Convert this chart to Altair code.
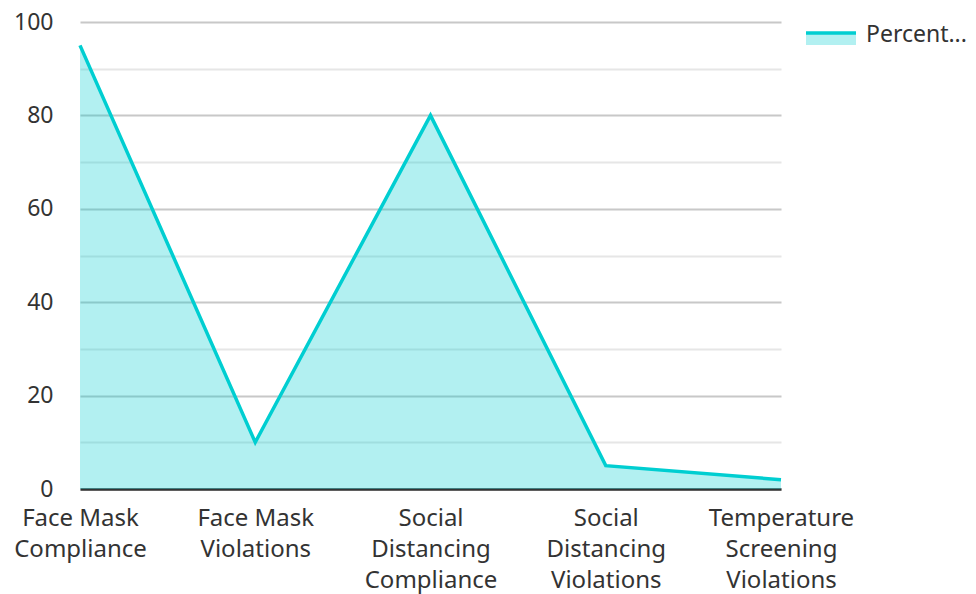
import altair as alt
import pandas as pd

categories = [
    "Face Mask\nCompliance",
    "Face Mask\nViolations",
    "Social\nDistancing\nCompliance",
    "Social\nDistancing\nViolations",
    "Temperature\nScreening\nViolations",
]
values = [95, 10, 80, 5, 2]
legend_label = ["Percent..."]
y_ticks = [0, 10, 20, 30, 40, 50, 60, 70, 80, 90, 100]

FONT = "Noto Sans"
LINE = "#00CED1"
TEXT = "#333333"

df = pd.DataFrame({"Category": categories, "Percent": values})

x_enc = alt.X(
    "Category:N",
    sort=categories,
    scale=alt.Scale(type="point", padding=0),
    axis=alt.Axis(
        title=None,
        labelAngle=0,
        labelExpr="split(datum.label, '\\n')",
        labelFont=FONT,
        labelFontSize=24,
        labelColor=TEXT,
        labelLineHeight=31,
        labelPadding=17,
        labelBaseline="top",
        ticks=False,
        domainColor="#333333",
        domainWidth=2.5,
        grid=False,
    ),
)
y_enc = alt.Y(
    "Percent:Q",
    scale=alt.Scale(domain=[0, 100], nice=False),
    axis=alt.Axis(
        title=None,
        values=y_ticks,
        labelExpr="datum.value % 20 === 0 ? datum.label : ''",
        labelFont=FONT,
        labelFontSize=23,
        labelColor=TEXT,
        labelPadding=27,
        ticks=False,
        domain=False,
        gridColor={"condition": {"test": "datum.value % 20 === 0", "value": "#c8c8c8"}, "value": "#e6e6e6"},
        gridWidth=2,
    ),
)

base = alt.Chart(df)
area = base.mark_area(color=LINE, opacity=0.3).encode(x=x_enc, y=y_enc)
line = base.mark_line(color=LINE, strokeWidth=3.5).encode(x=x_enc, y=y_enc)

leg_df = pd.DataFrame({"label": legend_label})
leg_base = alt.Chart(leg_df)
leg_fill = leg_base.mark_rect(color=LINE, opacity=0.3).encode(
    x=alt.value(726), x2=alt.value(776), y=alt.value(11), y2=alt.value(23)
)
leg_line = leg_base.mark_rect(color=LINE).encode(
    x=alt.value(726), x2=alt.value(776), y=alt.value(9.25), y2=alt.value(12.75)
)
leg_text = leg_base.mark_text(
    align="left", baseline="middle", font=FONT, fontSize=23, color=TEXT
).encode(x=alt.value(786), y=alt.value(13), text="label:N")

chart = (
    alt.layer(area, line, leg_fill, leg_line, leg_text)
    .properties(
        width=701,
        height=467,
        background="white",
        autosize=alt.AutoSizeParams(type="none"),
        padding={"left": 72, "top": 14, "right": 187, "bottom": 105},
    )
    .configure_view(stroke="transparent", strokeWidth=0)
)

chart.save("out.html", embed_options={"renderer": "svg", "actions": False})
